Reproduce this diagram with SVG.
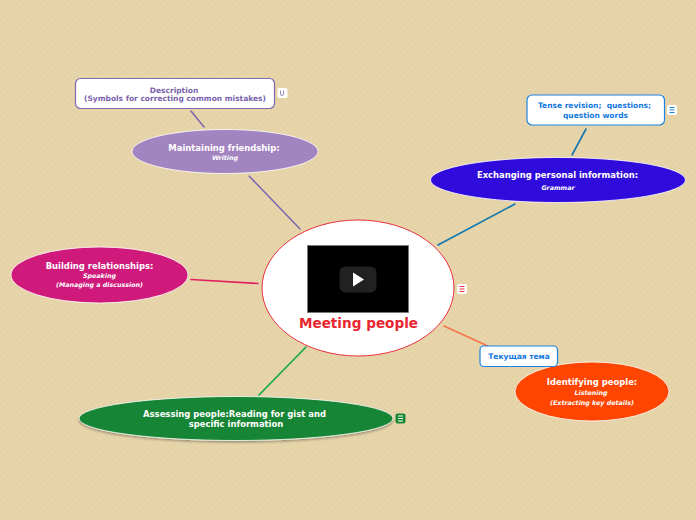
<svg xmlns="http://www.w3.org/2000/svg" width="696" height="520" viewBox="0 0 696 520">
<style>
text{font-family:"DejaVu Sans",Verdana,sans-serif;font-weight:700;text-anchor:middle}
.t{font-size:8.45px;fill:#fff}
.s{font-size:6.35px;fill:#fff;font-style:italic}
.b{font-size:7.5px}
.c{fill:none;stroke-width:1.6;stroke-linecap:round}
.n{stroke:#fff;stroke-width:.8}
.box{fill:#fff;stroke-width:1.2}
.ic{fill:#fff}
</style>
<defs>
<pattern id="bg" width="6" height="6" patternUnits="userSpaceOnUse">
<rect width="6" height="6" fill="#e6d3a8"/>
<path d="M0 6L6 0M-1 1L1 -1M5 7L7 5" stroke="#e9d8b1" stroke-width=".9"/>
<path d="M0 0L6 6" stroke="#e3cfa2" stroke-width=".6"/>
</pattern>
<filter id="sh" x="-5%" y="-10%" width="110%" height="125%"><feDropShadow dx="0" dy="1.500" stdDeviation=".8" flood-color="#000" flood-opacity=".35"/></filter>
</defs>
<rect width="696" height="520" fill="url(#bg)"/>
<g id="connectors">
<path class="c" d="M249 176L300 229M191 111L204 127" stroke="#7f68b0"/>
<path class="c" d="M438 245L515 204M572 155L586 129" stroke="#0f78b0"/>
<path class="c" d="M191 279.500L258 283.500" stroke="#e0205f"/>
<path class="c" d="M444 326L490 347" stroke="#f5754a"/>
<path class="c" d="M259 395L306 347" stroke="#10a84a"/>
</g>
<g id="center">
<ellipse cx="358" cy="288" rx="96" ry="68" fill="#fff" stroke="#e8303f" stroke-width="1"/>
<rect x="307.500" y="245.500" width="101" height="67" fill="#000" stroke="#777" stroke-width=".8"/>
<rect x="339.500" y="266.500" width="37" height="26" rx="6" fill="#212121"/>
<path d="M353 272.500L364 279.500L353 286.500Z" fill="#fff"/>
<text x="358.500" y="328" font-size="13.6" style="fill:#e8262f">Meeting people</text>
<rect x="457" y="284" width="10" height="10" rx="2" class="ic"/>
<path d="M459.500 286.500h5M459.500 289h5M459.500 291.500h5" stroke="#e8303f" stroke-width="1"/>
</g>
<g id="maintaining">
<ellipse cx="225" cy="151.500" rx="93" ry="22" class="n" fill="#a284c0"/>
<text x="224" y="151" class="t">Maintaining friendship:</text>
<text x="225" y="160" class="s">Writing</text>
</g>
<g id="description">
<rect x="75.500" y="78.500" width="199" height="30" rx="5" class="box" stroke="#7f68b0"/>
<text x="174" y="92.500" class="b" fill="#7a62ad">Description</text>
<text x="175" y="101" class="b" fill="#7a62ad">(Symbols for correcting common mistakes)</text>
<rect x="277.500" y="88" width="10" height="10" rx="2" class="ic"/>
<path d="M280.500 90.500v3.500q0 1.500 1.500 1.500t1.500-1.500v-3.500" fill="none" stroke="#8d80b8" stroke-width=".9"/>
</g>
<g id="exchanging">
<ellipse cx="558" cy="180" rx="127.500" ry="22.500" class="n" fill="#300cdc"/>
<text x="557.500" y="178" class="t">Exchanging personal information:</text>
<text x="558" y="189.500" class="s">Grammar</text>
</g>
<g id="tense">
<rect x="527" y="95" width="137.500" height="30" rx="5" class="box" stroke="#1c84e0"/>
<text x="594.500" y="108" class="b" fill="#0f78e0" xml:space="preserve">Tense revision;  questions;</text>
<text x="595.500" y="118" class="b" fill="#0f78e0">question words</text>
<rect x="667" y="105" width="10" height="10" rx="2" class="ic"/>
<path d="M669.500 107.500h5M669.500 110h5M669.500 112.500h5" stroke="#1c84e0" stroke-width="1"/>
</g>
<g id="building">
<ellipse cx="99.500" cy="275" rx="88.500" ry="28" class="n" fill="#cf1a7c"/>
<text x="99.500" y="269" class="t">Building relationships:</text>
<text x="99.500" y="278" class="s">Speaking</text>
<text x="99.500" y="287" class="s">(Managing a discussion)</text>
</g>
<g id="identifying">
<ellipse cx="592" cy="391.500" rx="77" ry="29.500" class="n" fill="#ff4500"/>
<text x="592" y="385" class="t">Identifying people:</text>
<text x="591" y="395" class="s">Listening</text>
<text x="592" y="405" class="s">(Extracting key details)</text>
</g>
<g id="current">
<rect x="480" y="346" width="77.500" height="20.500" rx="4" class="box" stroke="#1c84e0"/>
<text x="519" y="359" class="b" fill="#0f78e0">Текущая тема</text>
</g>
<g id="assessing">
<ellipse cx="236" cy="418.500" rx="157" ry="22" class="n" fill="#178534" filter="url(#sh)"/>
<text x="234.500" y="417" class="t">Assessing people:Reading for gist and</text>
<text x="236" y="427" class="t">specific information</text>
<rect x="395.500" y="413.500" width="10" height="10" rx="2" fill="#178534"/>
<path d="M398 416h5M398 418.500h5M398 421h5" stroke="#fff" stroke-width="1"/>
</g>
</svg>
